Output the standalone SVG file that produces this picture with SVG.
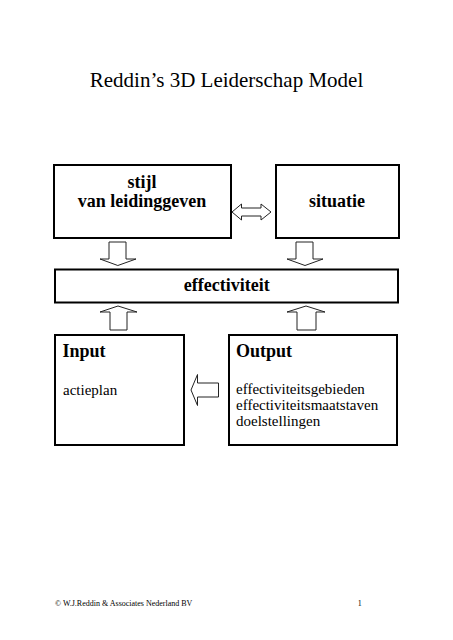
<svg xmlns="http://www.w3.org/2000/svg" width="453" height="640" viewBox="0 0 453 640">
<style>
.box{fill:#fff;stroke:#000;stroke-width:2}
.arr{fill:#fff;stroke:#222;stroke-width:1;stroke-linejoin:miter}
.b{font-family:"Liberation Serif",serif;font-weight:bold;font-size:18px;fill:#000}
.r{font-family:"Liberation Serif",serif;font-size:15px;fill:#000}
.t{font-family:"Liberation Serif",serif;font-size:21px;fill:#000}
.f{font-family:"Liberation Serif",serif;font-size:8px;fill:#000}
</style>
<rect width="453" height="640" fill="#fff"/>
<text class="t" x="226.5" y="86.5" text-anchor="middle">Reddin’s 3D Leiderschap Model</text>
<g id="stijl">
<rect class="box" x="54" y="165" width="177" height="73"/>
<text class="b" x="142" y="188" text-anchor="middle">stijl</text>
<text class="b" x="142" y="207" text-anchor="middle">van leidinggeven</text>
</g>
<g id="situatie">
<rect class="box" x="276" y="165" width="123" height="73"/>
<text class="b" x="337" y="207" text-anchor="middle">situatie</text>
</g>
<g id="effectiviteit">
<rect class="box" x="55" y="269.5" width="343" height="33"/>
<text class="b" x="226.7" y="290.5" text-anchor="middle">effectiviteit</text>
</g>
<g id="input">
<rect class="box" x="55" y="335" width="129" height="110"/>
<text class="b" x="62.5" y="356.5">Input</text>
<text class="r" x="63" y="395">actieplan</text>
</g>
<g id="output">
<rect class="box" x="229" y="335" width="168" height="110"/>
<text class="b" x="236" y="357">Output</text>
<text class="r" x="236" y="394">effectiviteitsgebieden</text>
<text class="r" x="236" y="410">effectiviteitsmaatstaven</text>
<text class="r" x="236" y="425.7">doelstellingen</text>
</g>
<g id="connectors">
<path class="arr" d="M232,212 L241.5,204 V208 H261 V204 L271,212 L261,220 V216 H241.5 V220 Z"/>
<path class="arr" d="M109,242 H126 V259 H136 L117.8,265.5 L100,259 H109 Z"/>
<path class="arr" d="M296,242 H313 V259 H323 L305,265.5 L287,259 H296 Z"/>
<path class="arr" d="M110,330 V312 H100 L118,306 L137,312 H127 V330 Z"/>
<path class="arr" d="M297,330 V312 H287 L306,306 L325,312 H316 V330 Z"/>
<path class="arr" d="M191,390 L197.5,374.5 V383 H218.5 V397 H197.5 V405.5 Z"/>
</g>
<text class="f" x="55" y="605.5">©  W.J.Reddin &amp; Associates Nederland BV</text>
<text class="f" x="357.7" y="605.5">1</text>
</svg>
